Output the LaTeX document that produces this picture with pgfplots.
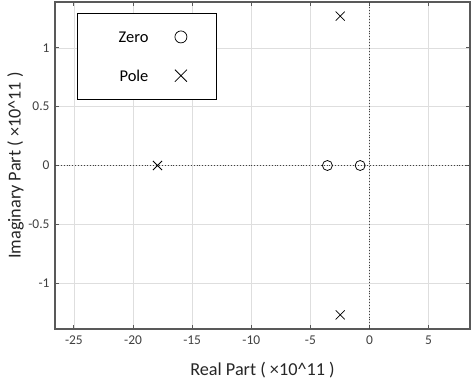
\documentclass[border=0pt]{standalone}
\usepackage{pgfplots}
\pgfplotsset{compat=1.18}
\usepackage{fontspec}
\setmainfont{Carlito}
\definecolor{ticktxt}{HTML}{404040}
\definecolor{labtxt}{HTML}{262626}
\pgfplotsset{
  zeroleg/.style={legend image code/.code={\path[draw=none,fill=none] (0bp,-7bp) rectangle (43.5bp,7bp);
    \draw[##1, mark size=6bp] plot coordinates {(8bp,0bp)};}},
  poleleg/.style={legend image code/.code={\path[draw=none,fill=none] (0bp,-7bp) rectangle (43.5bp,7bp);
    \draw[##1, mark size=8.5bp] plot coordinates {(8bp,0bp)};}},
}
\begin{document}
\begin{tikzpicture}
\begin{axis}[
  scale only axis,
  width=415bp, height=327bp,
  xmin=-26.6, xmax=8.5,
  ymin=-1.39, ymax=1.39,
  xtick={-25,-20,...,5},
  ytick={-1,-0.5,0,0.5,1},
  /pgf/number format/assume math mode=true,
  tick label style={font=\fontsize{13.5}{15}\selectfont, text=ticktxt},
  xticklabel style={yshift=-3bp},
  yticklabel style={xshift=-2bp},
  xlabel={Real Part ( ×10\textasciicircum 11 )},
  ylabel={Imaginary Part ( ×10\textasciicircum 11 )},
  every axis x label/.style={at={(axis description cs:0.5,-0.1254)}, anchor=center,
    font=\fontsize{18.3}{21}\selectfont, text=labtxt},
  every axis y label/.style={at={(axis description cs:-0.0952,0.5)}, anchor=center, rotate=90,
    font=\fontsize{18.3}{21}\selectfont, text=labtxt},
  grid=major,
  major grid style={black!13, line width=0.7pt},
  axis line style={black!65, line width=1.1pt},
  major tick style={black!65, line width=0.9pt},
  tick align=inside,
  legend style={at={(rel axis cs:0.053,0.966)}, anchor=north west, draw=black, line width=0.9pt,
    font=\fontsize{16.5}{19}\selectfont, legend cell align=right,
    inner xsep=0pt, inner ysep=14bp, row sep=20bp,
    /tikz/every odd column/.append style={column sep=22.5bp}},
  legend plot pos=right,
]
\draw[dotted, black!75, line width=0.9pt] (axis cs:-26.6,0) -- (axis cs:8.5,0);
\draw[dotted, black!75, line width=0.9pt] (axis cs:0,-1.39) -- (axis cs:0,1.39);
\addplot[only marks, mark=o, mark size=5bp, black, line width=0.75pt, zeroleg]
  coordinates {(-3.56,0) (-0.79,0)};
\addlegendentry{\makebox[69bp][r]{Zero\strut}}
\addplot[only marks, mark=x, mark size=6.4bp, black, line width=0.75pt, poleleg]
  coordinates {(-17.93,0) (-2.48,1.27) (-2.48,-1.27)};
\addlegendentry{\makebox[69bp][r]{Pole\strut}}
\end{axis}
\pgfresetboundingbox
\path (-55bp,-52bp) rectangle (419bp,329bp);
\end{tikzpicture}
\end{document}
